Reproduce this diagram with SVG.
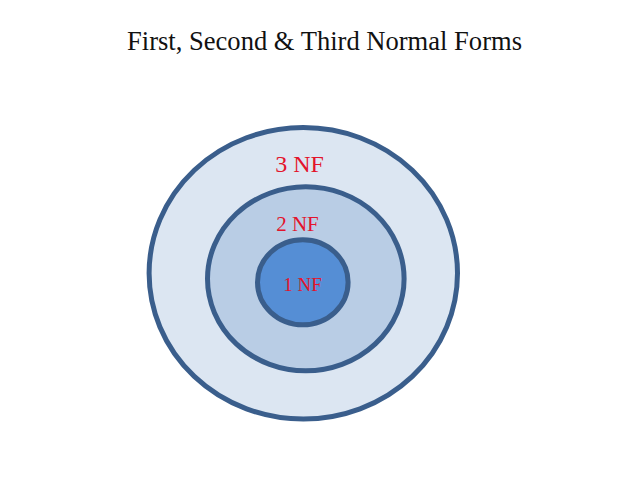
<svg xmlns="http://www.w3.org/2000/svg" width="638" height="478" viewBox="0 0 638 478">
<style>
.ring{stroke:#3a5e8c;stroke-width:5}
.lbl{font-family:"Liberation Serif","DejaVu Serif",serif;fill:#e3142c;text-anchor:middle}
.title{font-family:"Liberation Serif","DejaVu Serif",serif;fill:#111;font-size:27px;text-anchor:middle}
</style>
<rect width="638" height="478" fill="#ffffff"/>
<text class="title" x="324.5" y="50" textLength="395" lengthAdjust="spacingAndGlyphs">First, Second &amp; Third Normal Forms</text>
<g id="nf3">
<ellipse class="ring" cx="303.3" cy="273.3" rx="154.2" ry="145.8" fill="#dce6f2"/>
<text class="lbl" x="299.5" y="172" font-size="24">3 NF</text>
</g>
<g id="nf2">
<ellipse class="ring" cx="305.8" cy="278.8" rx="98.3" ry="92" fill="#b9cde5"/>
<text class="lbl" x="297.5" y="231" font-size="21">2 NF</text>
</g>
<g id="nf1">
<ellipse class="ring" cx="302.8" cy="282.3" rx="45.3" ry="42.5" fill="#558ed5"/>
<text class="lbl" x="302.5" y="291" font-size="19">1 NF</text>
</g>
<g id="connectors"/>
</svg>
